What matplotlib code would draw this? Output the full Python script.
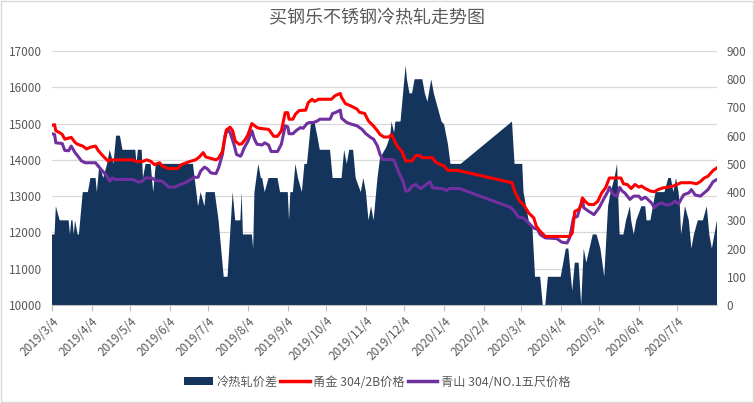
import matplotlib
matplotlib.use("Agg")
import matplotlib.pyplot as plt
import matplotlib.dates as mdates
from matplotlib.patches import Patch, Rectangle
from matplotlib.lines import Line2D
import pandas as pd

plt.rcParams['font.family'] = ['Noto Sans CJK SC', 'DejaVu Sans']

title = "买钢乐不锈钢冷热轧走势图"
series_names = ["冷热轧价差", "甬金 304/2B价格", "青山 304/NO.1五尺价格"]

# 冷热轧价差 (right axis)
spread_dates = [
    "2019-03-04", "2019-03-06", "2019-03-07", "2019-03-10", "2019-03-17", "2019-03-18", "2019-03-19",
    "2019-03-20", "2019-03-21", "2019-03-22", "2019-03-24", "2019-03-25", "2019-03-27", "2019-03-28",
    "2019-04-01", "2019-04-03", "2019-04-07", "2019-04-08", "2019-04-10", "2019-04-13", "2019-04-16",
    "2019-04-18", "2019-04-21", "2019-04-23", "2019-04-26", "2019-04-28", "2019-05-08", "2019-05-09",
    "2019-05-10", "2019-05-13", "2019-05-14", "2019-05-16", "2019-05-20", "2019-05-22", "2019-05-24",
    "2019-06-22", "2019-06-26", "2019-06-28", "2019-07-01", "2019-07-02", "2019-07-09", "2019-07-12",
    "2019-07-16", "2019-07-19", "2019-07-23", "2019-07-25", "2019-07-29", "2019-07-30", "2019-07-31",
    "2019-08-07", "2019-08-08", "2019-08-09", "2019-08-12", "2019-08-14", "2019-08-15", "2019-08-17",
    "2019-08-20", "2019-08-27", "2019-08-29", "2019-09-04", "2019-09-05", "2019-09-06", "2019-09-08",
    "2019-09-10", "2019-09-12", "2019-09-15", "2019-09-17", "2019-09-19", "2019-09-22", "2019-09-25",
    "2019-09-27", "2019-09-29", "2019-10-07", "2019-10-09", "2019-10-16", "2019-10-18", "2019-10-20",
    "2019-10-22", "2019-10-25", "2019-10-27", "2019-10-31", "2019-11-02", "2019-11-04", "2019-11-06",
    "2019-11-08", "2019-11-10", "2019-11-13", "2019-11-15", "2019-11-20", "2019-11-23", "2019-11-24",
    "2019-11-26", "2019-11-27", "2019-12-01", "2019-12-03", "2019-12-05", "2019-12-06", "2019-12-08",
    "2019-12-10", "2019-12-12", "2019-12-18", "2019-12-20", "2019-12-22", "2019-12-25", "2019-12-27",
    "2019-12-30", "2020-01-02", "2020-01-04", "2020-01-07", "2020-01-09", "2020-01-17", "2020-02-26",
    "2020-02-28", "2020-03-05", "2020-03-06", "2020-03-10", "2020-03-13", "2020-03-15", "2020-03-19",
    "2020-03-21", "2020-03-23", "2020-03-25", "2020-04-04", "2020-04-08", "2020-04-10", "2020-04-13",
    "2020-04-15", "2020-04-18", "2020-04-20", "2020-04-22", "2020-04-24", "2020-04-29", "2020-05-02",
    "2020-05-05", "2020-05-08", "2020-05-11", "2020-05-13", "2020-05-16", "2020-05-18", "2020-05-20",
    "2020-05-23", "2020-05-25", "2020-05-28", "2020-05-29", "2020-05-31", "2020-06-02", "2020-06-06",
    "2020-06-09", "2020-06-10", "2020-06-13", "2020-06-15", "2020-06-17", "2020-06-24", "2020-06-27",
    "2020-06-29", "2020-07-01", "2020-07-03", "2020-07-05", "2020-07-06", "2020-07-07", "2020-07-10",
    "2020-07-13", "2020-07-15", "2020-07-17", "2020-07-20", "2020-07-24", "2020-07-27", "2020-07-29",
    "2020-07-31", "2020-08-02", "2020-08-04",
]
spread_values = [
    250, 250, 350, 300, 300, 250, 300,
    300, 250, 300, 250, 250, 350, 400,
    400, 450, 450, 400, 500, 450, 500,
    550, 500, 600, 600, 550, 550, 500,
    550, 550, 450, 500, 500, 400, 500,
    500, 350, 400, 350, 400, 400, 300,
    100, 100, 400, 300, 300, 400, 250,
    250, 200, 400, 500, 450, 450, 400,
    450, 450, 400, 400, 300, 400, 400,
    500, 450, 400, 500, 500, 640, 645,
    600, 550, 550, 450, 450, 550, 500,
    550, 550, 450, 400, 450, 400, 300,
    350, 300, 450, 520, 560, 600, 650,
    610, 650, 650, 750, 850, 800, 750,
    750, 800, 800, 750, 720, 800, 750,
    700, 650, 640, 570, 500, 500, 650,
    500, 500, 400, 300, 270, 100, 100,
    0, 0, 100, 100, 200, 200, 50,
    150, 150, 0, 200, 150, 250, 250,
    200, 100, 350, 400, 450, 500, 250,
    250, 300, 350, 300, 250, 300, 350,
    350, 300, 300, 350, 400, 400, 450,
    450, 400, 450, 400, 350, 250, 350,
    300, 200, 250, 300, 300, 350, 250,
    200, 250, 300,
]

# 甬金 304/2B价格 (left axis)
yj_dates = [
    "2019-03-04", "2019-03-06", "2019-03-07", "2019-03-10", "2019-03-12", "2019-03-14", "2019-03-17",
    "2019-03-19", "2019-03-22", "2019-03-24", "2019-03-28", "2019-03-31", "2019-04-03", "2019-04-07",
    "2019-04-09", "2019-04-13", "2019-04-17", "2019-04-18", "2019-05-06", "2019-05-09", "2019-05-14",
    "2019-05-17", "2019-05-20", "2019-05-23", "2019-05-27", "2019-05-29", "2019-06-03", "2019-06-10",
    "2019-06-13", "2019-06-20", "2019-06-24", "2019-06-27", "2019-06-30", "2019-07-02", "2019-07-06",
    "2019-07-10", "2019-07-12", "2019-07-15", "2019-07-18", "2019-07-21", "2019-07-23", "2019-07-25",
    "2019-07-28", "2019-07-30", "2019-08-02", "2019-08-04", "2019-08-07", "2019-08-11", "2019-08-13",
    "2019-08-20", "2019-08-21", "2019-08-24", "2019-08-27", "2019-08-30", "2019-09-02", "2019-09-04",
    "2019-09-05", "2019-09-08", "2019-09-10", "2019-09-13", "2019-09-18", "2019-09-20", "2019-09-23",
    "2019-09-25", "2019-09-28", "2019-10-08", "2019-10-11", "2019-10-15", "2019-10-16", "2019-10-19",
    "2019-10-23", "2019-10-28", "2019-10-30", "2019-11-03", "2019-11-06", "2019-11-10", "2019-11-13",
    "2019-11-15", "2019-11-18", "2019-11-22", "2019-11-24", "2019-11-27", "2019-11-29", "2019-12-02",
    "2019-12-05", "2019-12-10", "2019-12-13", "2019-12-16", "2019-12-18", "2019-12-26", "2019-12-28",
    "2019-12-31", "2020-01-04", "2020-01-07", "2020-01-15", "2020-01-17", "2020-02-26", "2020-02-28",
    "2020-03-03", "2020-03-06", "2020-03-10", "2020-03-14", "2020-03-16", "2020-03-19", "2020-03-23",
    "2020-04-11", "2020-04-13", "2020-04-15", "2020-04-18", "2020-04-20", "2020-04-21", "2020-04-23",
    "2020-04-26", "2020-04-30", "2020-05-03", "2020-05-06", "2020-05-09", "2020-05-12", "2020-05-21",
    "2020-05-23", "2020-05-26", "2020-05-29", "2020-06-01", "2020-06-04", "2020-06-06", "2020-06-09",
    "2020-06-13", "2020-06-16", "2020-06-19", "2020-06-23", "2020-06-27", "2020-07-01", "2020-07-07",
    "2020-07-15", "2020-07-19", "2020-07-22", "2020-07-25", "2020-07-28", "2020-08-01", "2020-08-04",
]
yj_values = [
    14950, 14970, 14800, 14750, 14700, 14570, 14600,
    14620, 14480, 14430, 14380, 14300, 14350, 14380,
    14260, 14100, 13960, 14000, 14000, 13950, 13960,
    14000, 13960, 13870, 13920, 13830, 13760, 13760,
    13870, 13960, 14000, 14080, 14200, 14080, 14040,
    14000, 14050, 14230, 14820, 14900, 14800, 14520,
    14430, 14440, 14570, 14700, 15000, 14890, 14870,
    14840, 14800, 14650, 14650, 14800, 15300, 15300,
    15120, 15120, 15260, 15360, 15370, 15580, 15670,
    15610, 15670, 15670, 15770, 15830, 15720, 15550,
    15490, 15400, 15310, 15280, 15070, 14930, 14800,
    14700, 14630, 14630, 14700, 14470, 14350, 14240,
    13970, 13970, 14120, 14120, 14060, 14060, 13950,
    13890, 13830, 13710, 13710, 13690, 13370, 13140,
    12860, 12770, 12540, 12400, 12170, 12030, 11890,
    11890, 11980, 12580, 12630, 12750, 12950, 12860,
    12770, 12770, 12860, 13090, 13230, 13500, 13500,
    13340, 13320, 13210, 13320, 13250, 13280, 13210,
    13140, 13120, 13180, 13230, 13250, 13280, 13370,
    13370, 13340, 13400, 13500, 13550, 13710, 13780,
]

# 青山 304/NO.1五尺价格 (left axis)
qs_dates = [
    "2019-03-04", "2019-03-06", "2019-03-07", "2019-03-12", "2019-03-14", "2019-03-17", "2019-03-19",
    "2019-03-22", "2019-03-24", "2019-03-27", "2019-03-30", "2019-04-07", "2019-04-09", "2019-04-12",
    "2019-04-16", "2019-04-18", "2019-04-20", "2019-04-22", "2019-05-06", "2019-05-10", "2019-05-13",
    "2019-05-16", "2019-05-21", "2019-05-24", "2019-05-29", "2019-06-01", "2019-06-03", "2019-06-08",
    "2019-06-12", "2019-06-16", "2019-06-19", "2019-06-23", "2019-06-26", "2019-06-28", "2019-07-01",
    "2019-07-03", "2019-07-06", "2019-07-10", "2019-07-12", "2019-07-15", "2019-07-17", "2019-07-19",
    "2019-07-21", "2019-07-24", "2019-07-26", "2019-07-29", "2019-07-30", "2019-08-01", "2019-08-04",
    "2019-08-07", "2019-08-09", "2019-08-11", "2019-08-15", "2019-08-17", "2019-08-20", "2019-08-22",
    "2019-08-27", "2019-08-30", "2019-09-02", "2019-09-04", "2019-09-05", "2019-09-08", "2019-09-11",
    "2019-09-14", "2019-09-16", "2019-09-19", "2019-09-21", "2019-09-24", "2019-09-27", "2019-09-29",
    "2019-10-07", "2019-10-09", "2019-10-11", "2019-10-15", "2019-10-16", "2019-10-20", "2019-10-23",
    "2019-10-28", "2019-11-01", "2019-11-04", "2019-11-08", "2019-11-10", "2019-11-13", "2019-11-15",
    "2019-11-17", "2019-11-23", "2019-11-26", "2019-11-28", "2019-12-01", "2019-12-03", "2019-12-05",
    "2019-12-07", "2019-12-10", "2019-12-13", "2019-12-15", "2019-12-17", "2019-12-21", "2019-12-24",
    "2019-12-26", "2020-01-02", "2020-01-06", "2020-01-08", "2020-01-16", "2020-02-25", "2020-02-28",
    "2020-03-02", "2020-03-06", "2020-03-10", "2020-03-14", "2020-03-17", "2020-03-19", "2020-03-23",
    "2020-04-01", "2020-04-05", "2020-04-09", "2020-04-11", "2020-04-14", "2020-04-17", "2020-04-19",
    "2020-04-21", "2020-04-22", "2020-04-26", "2020-04-30", "2020-05-04", "2020-05-08", "2020-05-11",
    "2020-05-12", "2020-05-15", "2020-05-18", "2020-05-20", "2020-05-22", "2020-05-24", "2020-05-28",
    "2020-05-31", "2020-06-04", "2020-06-06", "2020-06-09", "2020-06-11", "2020-06-14", "2020-06-16",
    "2020-06-19", "2020-06-22", "2020-06-26", "2020-06-30", "2020-07-02", "2020-07-05", "2020-07-09",
    "2020-07-13", "2020-07-15", "2020-07-18", "2020-07-22", "2020-07-25", "2020-07-28", "2020-08-01",
    "2020-08-04",
]
qs_values = [
    14720, 14700, 14470, 14450, 14260, 14250, 14380,
    14200, 14110, 13970, 13920, 13920, 13830, 13710,
    13550, 13410, 13500, 13460, 13460, 13390, 13400,
    13500, 13500, 13430, 13410, 13320, 13250, 13250,
    13320, 13370, 13430, 13520, 13520, 13690, 13800,
    13760, 13640, 13620, 13780, 14150, 14660, 14840,
    14750, 14430, 14150, 14100, 14150, 14330, 14520,
    14800, 14570, 14430, 14410, 14470, 14410, 14230,
    14230, 14430, 14940, 14910, 14720, 14720, 14820,
    14890, 14870, 15000, 15030, 15030, 15070, 15120,
    15120, 15280, 15300, 15370, 15150, 15030, 14990,
    14940, 14840, 14720, 14610, 14570, 14380, 14150,
    14010, 14010, 13990, 13800, 13550, 13410, 13140,
    13140, 13280, 13320, 13250, 13210, 13320, 13400,
    13230, 13210, 13160, 13210, 13210, 12690, 12580,
    12420, 12400, 12260, 12120, 12080, 11940, 11850,
    11830, 11730, 11710, 11850, 12400, 12440, 12690,
    12930, 12680, 12580, 12490, 12680, 12950, 13140,
    13250, 13050, 13000, 13240, 13140, 13090, 12910,
    13000, 13000, 12910, 12970, 12910, 12810, 12680,
    12780, 12810, 12750, 12790, 12860, 12790, 13040,
    13090, 13180, 13030, 13000, 13090, 13180, 13400,
    13460,
]

x_start, x_end = "2019-03-04", "2020-08-04"
tick_dates = pd.date_range("2019-03-01", "2020-07-01", freq="MS") + pd.Timedelta(days=3)

TEXT = "#595959"
NAVY = "#14345c"
RED = "#ff0000"
PURPLE = "#7030a0"

fig = plt.figure(figsize=(7.54, 4.03), dpi=100)
ax = fig.add_axes([52/754, 1-305/403, (717-52)/754, (305-51)/403])
ax2 = ax.twinx()

ax.set_xlim(pd.Timestamp(x_start), pd.Timestamp(x_end))
ax.set_ylim(10000, 17000)
ax2.set_ylim(0, 900)
ax.set_autoscale_on(False)
ax2.set_autoscale_on(False)

sd = pd.to_datetime(spread_dates)
ax.fill_between(sd, 0, spread_values, transform=ax2.transData,
                facecolor=NAVY, edgecolor="none", linewidth=0, zorder=1)
ax.plot(pd.to_datetime(yj_dates), yj_values, color=RED, lw=2.2, zorder=3,
        solid_joinstyle="round")
ax.plot(pd.to_datetime(qs_dates), qs_values, color=PURPLE, lw=2.2, zorder=2,
        solid_joinstyle="round")

ax.set_yticks(range(10000, 17001, 1000))
ax2.set_yticks(range(0, 901, 100))
ax.grid(axis="y", color="#d9d9d9", lw=0.9, zorder=0)
ax.set_axisbelow(True)

ax.set_xticks(tick_dates)
ax.set_xticklabels([f"{d.year}/{d.month}/{d.day}" for d in tick_dates],
                   rotation=45, ha="right", rotation_mode="anchor", fontsize=8.5, color=TEXT)
ax.tick_params(axis="x", length=4, color="#bfbfbf", pad=3)
ax.tick_params(axis="y", length=0, labelsize=8.5, labelcolor=TEXT, pad=7)
ax2.tick_params(axis="y", length=0, labelsize=8.5, labelcolor=TEXT, pad=7)

for a in (ax, ax2):
    for s in ("top", "left", "right"):
        a.spines[s].set_visible(False)
    a.spines["bottom"].set_color("#bfbfbf")
ax2.spines["bottom"].set_visible(False)

fig.text(0.5, 1-18/403, title, ha="center", va="center", fontsize=13, color=TEXT)

handles = [Patch(facecolor=NAVY, edgecolor="none"),
           Line2D([], [], color=RED, lw=2.5),
           Line2D([], [], color=PURPLE, lw=2.5)]
fig.legend(handles, series_names, loc="center", bbox_to_anchor=(0.5, 1-382/403),
           ncol=3, frameon=False, fontsize=8.8, handlelength=2.4, handleheight=0.6,
           columnspacing=0.2, handletextpad=0.3, labelcolor=TEXT)

fig.patches.append(Rectangle((0.0015, 0.0025), 0.997, 0.995, transform=fig.transFigure,
                             fill=False, edgecolor="#d9d9d9", lw=1))

fig.savefig("out.png", dpi=100)
